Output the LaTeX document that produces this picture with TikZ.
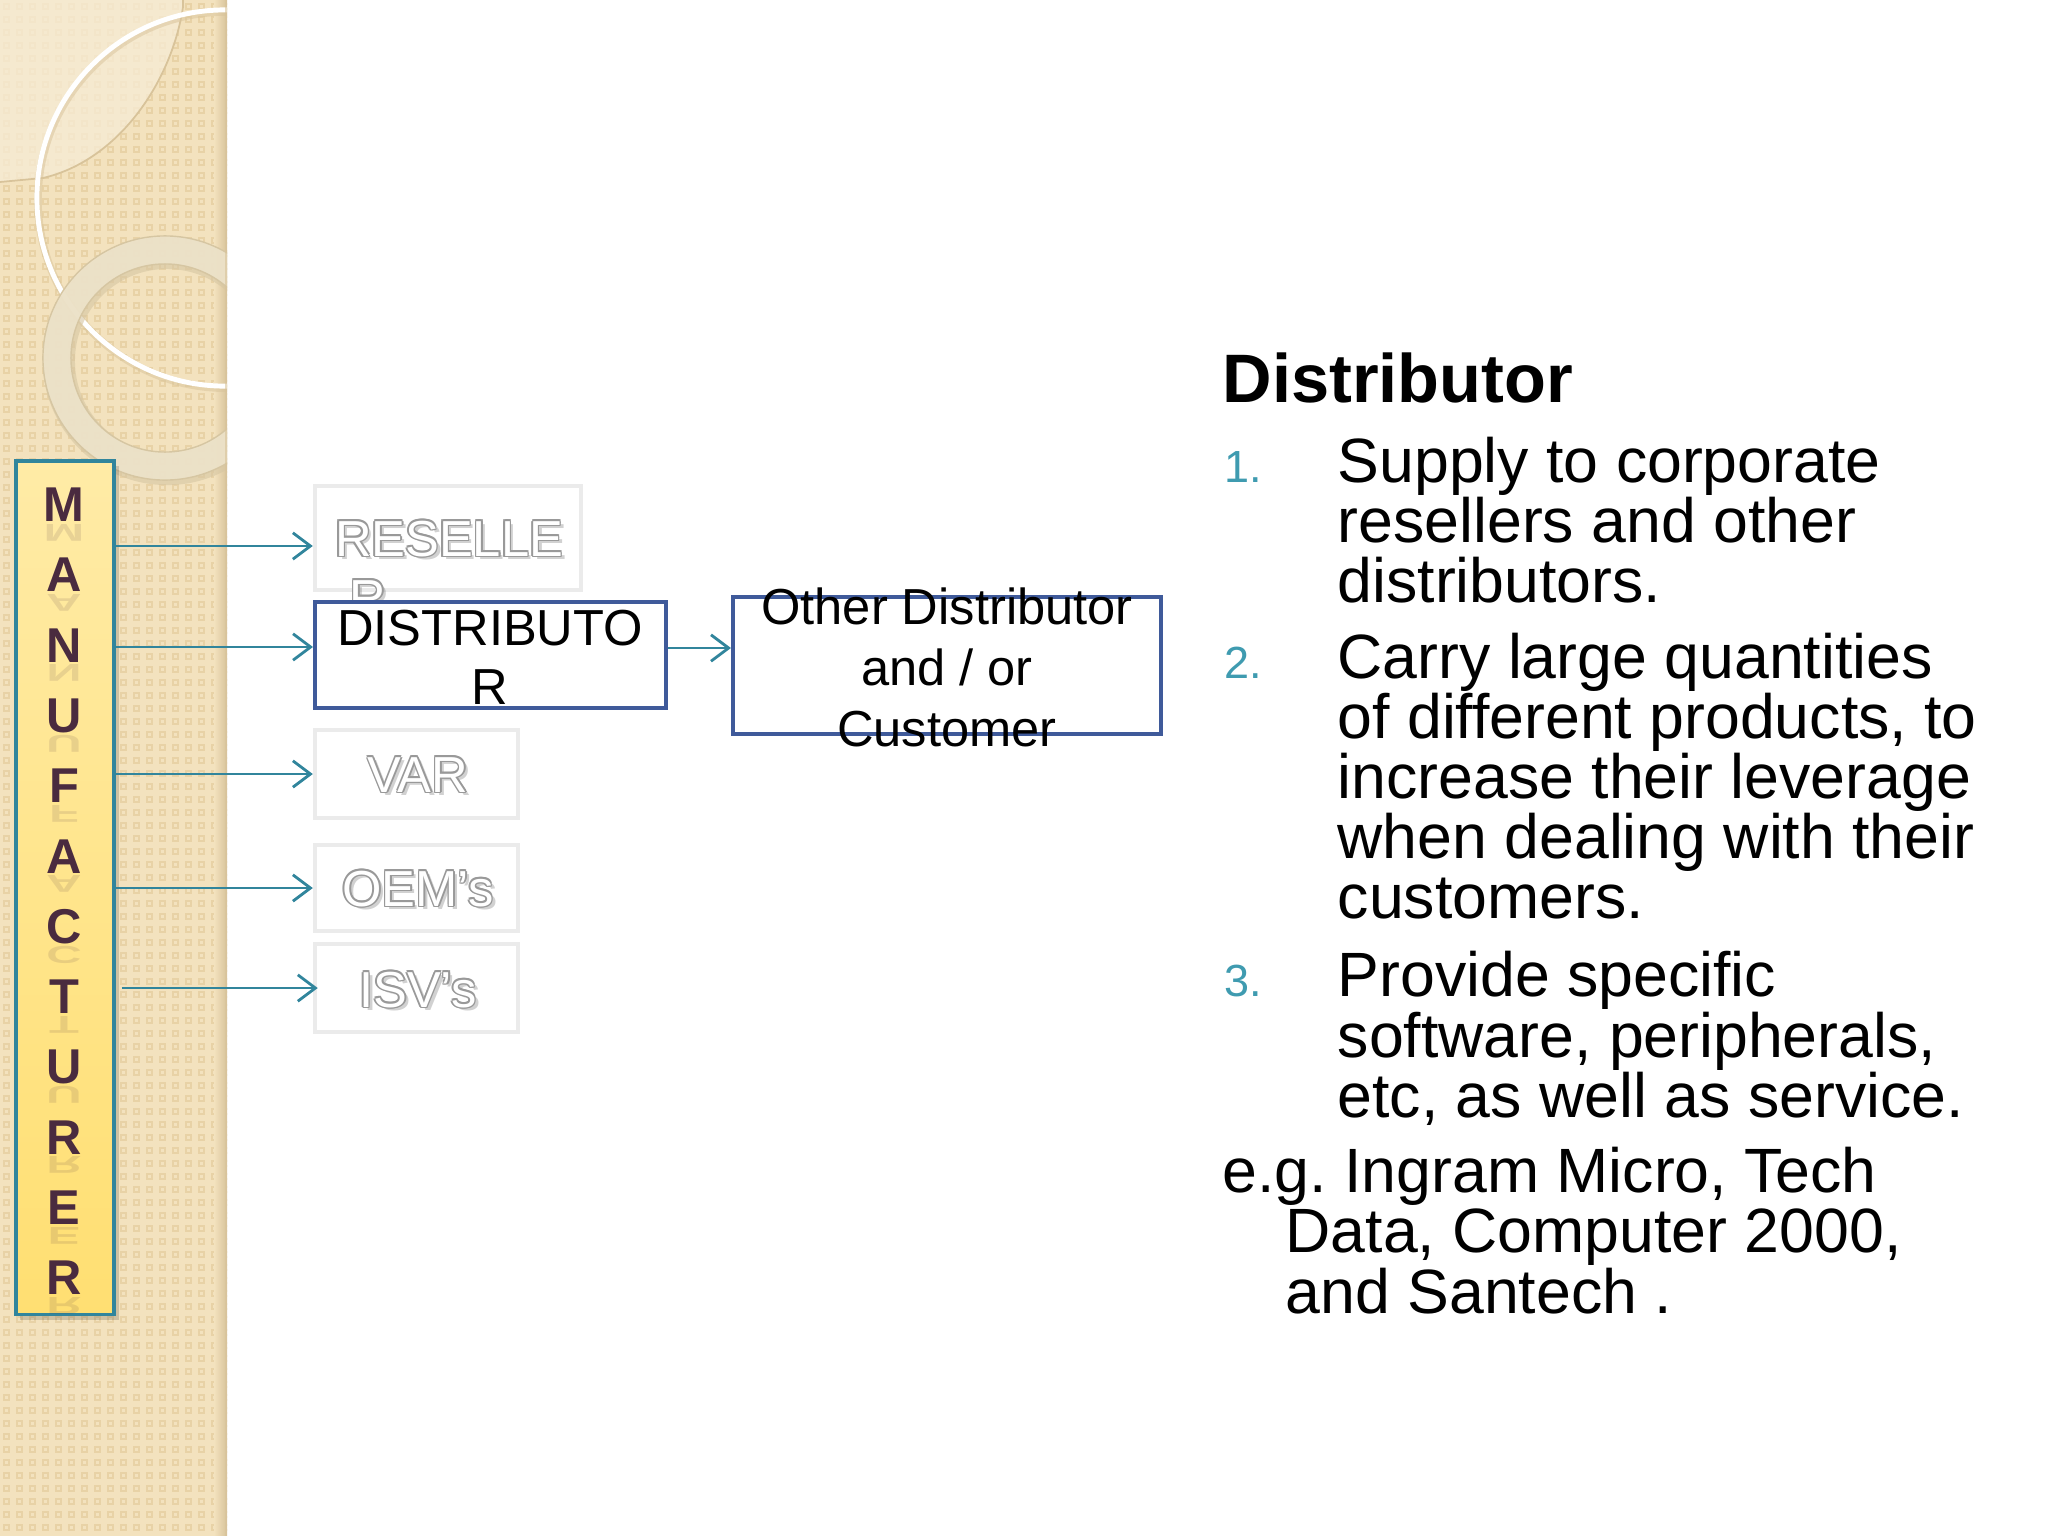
\documentclass[tikz,border=0pt]{standalone}
\usepackage{fontspec}
\usepackage{graphicx}
\setmainfont{Liberation Sans}
\frenchspacing
\usetikzlibrary{arrows.meta}
\definecolor{stripbg}{HTML}{F3E2BE}
\definecolor{stripdot}{HTML}{E8D2A6}
\definecolor{stripedge}{HTML}{D8C39A}
\definecolor{lightpatch}{HTML}{F7ECD6}
\definecolor{ringcol}{HTML}{EDE3CA}
\definecolor{ringedge}{HTML}{D6C6A2}
\definecolor{tealc}{HTML}{31859C}
\definecolor{numc}{HTML}{3F9BB0}
\definecolor{boxblue}{HTML}{3F5A9A}
\definecolor{mletc}{HTML}{4A2B3F}
\definecolor{mtop}{HTML}{FFEBA6}
\definecolor{mbot}{HTML}{FFDF72}
\definecolor{faintbox}{HTML}{EBEBEB}
\tikzset{
  conn/.style={draw=tealc, line width=0.8pt, -{Straight Barb[length=5pt,width=7.5pt,line width=0.8pt]}},
  lblbox/.style={draw=faintbox, line width=1.2pt, fill=white, inner sep=0},
  bluebox/.style={draw=boxblue, line width=1.1pt, fill=white, inner sep=0},
  boxtxt/.style={anchor=base, inner sep=0, font=\fontsize{14.4}{16}\selectfont},
  olt/.style={anchor=base, inner sep=0, font=\fontsize{14.4}{16}\selectfont},
  mletter/.style={anchor=base, inner sep=0, text=mletc, font=\fontsize{13.9}{14}\bfseries},
  mrefl/.style={anchor=north, inner sep=0, text=mletc, opacity=0.12, font=\fontsize{13.9}{14}\bfseries},
  rt/.style={anchor=base west, inner sep=0, font=\fontsize{17.8}{20}\selectfont},
  numtxt/.style={anchor=base west, inner sep=0, text=numc, font=\fontsize{12.8}{14}\selectfont},
}
\newcommand\oltext[4]{%
  \node[olt, text=black, opacity=0.18, xshift=1.1pt, yshift=-1.1pt] at (#1,#2) {#4};
  \foreach \dx/\dy in {0.45/0,-0.45/0,0/0.45,0/-0.45,0.32/0.32,-0.32/0.32,0.32/-0.32,-0.32/-0.32}
    {\node[olt, text=black!40, xshift=\dx pt, yshift=\dy pt] at (#1,#2) {#4};}
  \node[olt, text=white] (#3) at (#1,#2) {#4};}
\begin{document}
\begin{tikzpicture}[x=0.01cm,y=-0.01cm]
\useasboundingbox (0,0) rectangle (2048,1536);
\fill[white] (0,0) rectangle (2048,1536);
% ---- left decorative strip ----
\begin{scope}
\clip (0,0) rectangle (227,1536);
\fill[stripbg] (0,0) rectangle (227,1536);
\draw[stripdot, line width=0.35pt]
  \foreach \i in {0,...,17} { \foreach \j in {0,...,118} { (\i*13+4,\j*13+4) rectangle ++(5,5) } };
\shade[left color=stripbg, right color=stripedge] (214,0) rectangle (227,1536);
\fill[lightpatch, opacity=0.75] (0,0) -- (183,0) -- (183,7) .. controls (172,80) and (120,160) .. (43,178) -- (0,182) -- cycle;
\draw[stripedge, line width=0.5pt] (183,0) -- (183,7) .. controls (172,80) and (120,160) .. (43,178) -- (0,182);
\draw[stripedge, opacity=0.5, line width=2.2pt] (226,200) circle[radius=1.88cm];
\draw[white, line width=1.4pt] (225,198) circle[radius=1.88cm];
\fill[ringedge, even odd rule, opacity=0.6] (167,361) circle[radius=1.24cm] (167,361) circle[radius=0.92cm];
\fill[ringcol, even odd rule, opacity=0.9] (165,358) circle[radius=1.22cm] (165,358) circle[radius=0.94cm];
\draw[ringedge, line width=0.4pt] (165,358) circle[radius=1.22cm] (165,358) circle[radius=0.94cm];
\fill[stripedge, opacity=0.6] (225,0) rectangle (227,1536);
\end{scope}
% ---- manufacturer box ----
\fill[black, opacity=0.15] (20,466) rectangle (119,1320);
\node[draw=tealc, line width=1pt, top color=mtop, bottom color=mbot, inner sep=0,
      minimum width=0.98cm, minimum height=8.53cm] (mfr) at (65,887.5) {};
\foreach \L [count=\i from 0] in {M,A,N,U,F,A,C,T,U,R,E,R} {
  \pgfmathsetmacro\yy{504+70.3*\i+17.5}
  \node[mrefl] (mr\i) at (64,\yy+2) {\scalebox{1}[-0.5]{\L}};
  \node[mletter] (ml\i) at (64,\yy) {\L};
}
% ---- label boxes ----
\node[lblbox, minimum width=2.66cm, minimum height=1.04cm] (res) at (448,538) {};
\node[lblbox, minimum width=2.03cm, minimum height=0.88cm] (var) at (416.5,774) {};
\node[lblbox, minimum width=2.03cm, minimum height=0.86cm] (oem) at (416.5,888) {};
\node[lblbox, minimum width=2.03cm, minimum height=0.88cm] (isv) at (416.5,988) {};
\oltext{449}{556}{rest1}{RESELLE}
\oltext{368}{615}{rest2}{R}
\oltext{418}{792}{vart}{VAR}
\oltext{418}{906}{oemt}{OEM’s}
\oltext{418}{1007}{isvt}{ISV’s}
% ---- distributor and other boxes ----
\node[bluebox, minimum width=3.51cm, minimum height=1.06cm] (dist) at (490.5,655) {};
\node[bluebox, minimum width=4.28cm, minimum height=1.37cm] (oth) at (947,665.5) {};
\node[boxtxt] (dt1) at (490,645) {DISTRIBUTO};
\node[boxtxt] (dt2) at (490,704) {R};
\node[boxtxt] (ot1) at (947,624) {Other Distributor};
\node[boxtxt] (ot2) at (947,685) {and / or};
\node[boxtxt] (ot3) at (947,746) {Customer};
% ---- connectors ----
\draw[conn] (mfr.east |- 0,546) -- (res.west |- 0,546);
\draw[conn] (mfr.east |- 0,647) -- (dist.west |- 0,647);
\draw[conn] (mfr.east |- var.west) -- (var.west);
\draw[conn] (mfr.east |- oem.west) -- (oem.west);
\draw[conn] ([xshift=1.7pt]mfr.east |- isv.west) -- ([xshift=1.4pt]isv.west);
\draw[conn] (dist.east |- 0,648) -- (oth.west |- 0,648);
% ---- right text ----
\node[anchor=base west, inner sep=0, font=\fontsize{19.5}{22}\bfseries] (ttl) at (1222,402) {Distributor};
\node[numtxt] (n1) at (1224,482) {1.};
\node[rt] (a1) at (1337,482) {Supply to corporate};
\node[rt] (a2) at (1337,542) {resellers and other};
\node[rt] (a3) at (1337,602) {distributors.};
\node[numtxt] (n2) at (1224,678) {2.};
\node[rt] (b1) at (1337,678) {Carry large quantities};
\node[rt] (b2) at (1337,738) {of different products, to};
\node[rt] (b3) at (1337,798) {increase their leverage};
\node[rt] (b4) at (1337,858) {when dealing with their};
\node[rt] (b5) at (1337,918) {customers.};
\node[numtxt] (n3) at (1224,996) {3.};
\node[rt] (c1) at (1337,996) {Provide specific};
\node[rt] (c2) at (1337,1057) {software, peripherals,};
\node[rt] (c3) at (1337,1117) {etc, as well as service.};
\node[rt] (e1) at (1222,1192) {e.g. Ingram Micro, Tech};
\node[rt] (e2) at (1285,1252) {Data, Computer 2000,};
\node[rt] (e3) at (1285,1313) {and Santech .};
\end{tikzpicture}
\end{document}
